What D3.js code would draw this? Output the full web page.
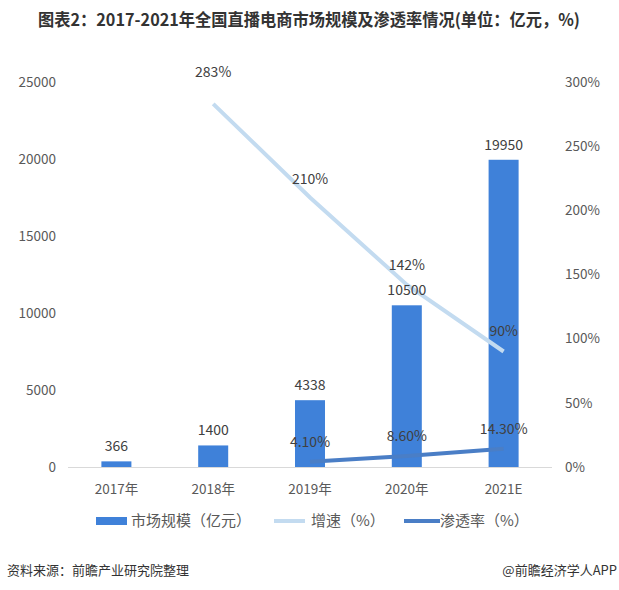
<!DOCTYPE html>
<html><head><meta charset="utf-8">
<script src="https://cdn.jsdelivr.net/npm/d3@7/dist/d3.min.js"></script>
<style>body{margin:0;background:#fff}svg{display:block}text{font-family:"Microsoft YaHei","Noto Sans CJK SC",sans-serif}</style>
</head><body>
<script>
const categories = ["2017年","2018年","2019年","2020年","2021E"];
const marketSize = [366,1400,4338,10500,19950];
const growth = [null,283,210,142,90];
const penetration = [null,null,4.10,8.60,14.30];
const leftTicks = [0,5000,10000,15000,20000,25000];
const rightTicks = [0,50,100,150,200,250,300];
const legendLabels = ["市场规模（亿元）","增速（%）","渗透率（%）"];
const title = "图表2：2017-2021年全国直播电商市场规模及渗透率情况(单位：亿元，%)";

const W=619,H=590;
const svg=d3.select("body").append("svg").attr("width",W).attr("height",H);
const x=d3.scaleBand().domain(categories).range([68,552]).paddingInner(0.69).paddingOuter(0.345);
const yL=d3.scaleLinear().domain([0,25000]).range([467,82]);
const yR=d3.scaleLinear().domain([0,300]).range([467,82]);
const cx=c=>x(c)+x.bandwidth()/2;
const txt="#404040";

svg.append("text").attr("x",38).attr("y",26)
  .attr("font-size",17).attr("font-weight","bold").attr("fill","#333")
  .attr("textLength",542).attr("lengthAdjust","spacingAndGlyphs").text(title);

const lf="Calibri,Carlito,'Liberation Sans',sans-serif";
// left axis
const gL=svg.append("g").attr("transform","translate(56,0)")
  .call(d3.axisLeft(yL).tickValues(leftTicks).tickSize(0).tickPadding(0).tickFormat(d3.format("d")));
gL.select(".domain").remove();
gL.selectAll("text").attr("font-size",13.5).attr("fill","#595959").attr("font-family",lf);
// right axis
const gR=svg.append("g").attr("transform","translate(565,0)")
  .call(d3.axisRight(yR).tickValues(rightTicks).tickSize(0).tickPadding(0).tickFormat(d=>d+"%"));
gR.select(".domain").remove();
gR.selectAll("text").attr("font-size",13.5).attr("fill","#595959").attr("font-family",lf);

// baseline
svg.append("line").attr("x1",68).attr("x2",552).attr("y1",yL(0)+0.5).attr("y2",yL(0)+0.5).attr("stroke","#d9d9d9");

// bars
svg.selectAll("rect.bar").data(categories).join("rect").attr("class","bar")
  .attr("x",d=>x(d)).attr("width",x.bandwidth())
  .attr("y",(d,i)=>yL(marketSize[i])).attr("height",(d,i)=>yL(0)-yL(marketSize[i]))
  .attr("fill","#3f81d9");

// growth line
const gData=categories.map((c,i)=>({c,v:growth[i]})).filter(d=>d.v!=null);
svg.append("path").datum(gData).attr("fill","none").attr("stroke","#c3dbf0").attr("stroke-width",4)
  .attr("d",d3.line().x(d=>cx(d.c)).y(d=>yR(d.v)));
// penetration line
const pData=categories.map((c,i)=>({c,v:penetration[i]})).filter(d=>d.v!=null);
svg.append("path").datum(pData).attr("fill","none").attr("stroke","#4a7ec6").attr("stroke-width",4)
  .attr("d",d3.line().x(d=>cx(d.c)).y(d=>yR(d.v)));

// bar labels
svg.selectAll("text.bl").data(categories).join("text").attr("class","bl")
  .attr("x",d=>cx(d)).attr("y",(d,i)=>yL(marketSize[i])-10)
  .attr("text-anchor","middle").attr("font-size",14).attr("fill",txt).attr("font-family",lf)
  .text((d,i)=>marketSize[i]);
// growth labels
const gOff={1:-27,2:-14,3:-15,4:-16};
svg.selectAll("text.gl").data(gData).join("text").attr("class","gl")
  .attr("x",d=>cx(d.c)).attr("y",d=>yR(d.v)+gOff[categories.indexOf(d.c)])
  .attr("text-anchor","middle").attr("font-size",14).attr("fill",txt).attr("font-family",lf)
  .text(d=>d.v+"%");
// penetration labels
svg.selectAll("text.pl").data(pData).join("text").attr("class","pl")
  .attr("x",d=>cx(d.c)).attr("y",d=>yR(d.v)-15)
  .attr("text-anchor","middle").attr("font-size",14).attr("fill",txt).attr("font-family",lf)
  .text(d=>d.v.toFixed(2)+"%");

// category labels
svg.selectAll("text.cl").data(categories).join("text").attr("class","cl")
  .attr("x",d=>cx(d)).attr("y",494).attr("text-anchor","middle").attr("font-size",13.5).attr("fill","#595959")
  .text(d=>d);

// legend
const ly=521;
svg.append("rect").attr("x",96).attr("y",ly-4).attr("width",31).attr("height",8).attr("fill","#3f81d9");
svg.append("text").attr("x",131).attr("y",ly+5).attr("font-size",15).attr("fill","#595959").text(legendLabels[0]);
svg.append("line").attr("x1",274).attr("x2",305).attr("y1",ly).attr("y2",ly).attr("stroke","#c3dbf0").attr("stroke-width",4);
svg.append("text").attr("x",311).attr("y",ly+5).attr("font-size",15).attr("fill","#595959").text(legendLabels[1]);
svg.append("line").attr("x1",404).attr("x2",440).attr("y1",ly).attr("y2",ly).attr("stroke","#4a7ec6").attr("stroke-width",4);
svg.append("text").attr("x",440).attr("y",ly+5).attr("font-size",15).attr("fill","#595959").text(legendLabels[2]);

// footer
svg.append("text").attr("x",7).attr("y",575).attr("font-size",13).attr("fill","#333").text("资料来源：前瞻产业研究院整理");
svg.append("text").attr("x",617).attr("y",575).attr("text-anchor","end").attr("font-size",13).attr("fill","#333").text("@前瞻经济学人APP");
</script>
</body></html>
